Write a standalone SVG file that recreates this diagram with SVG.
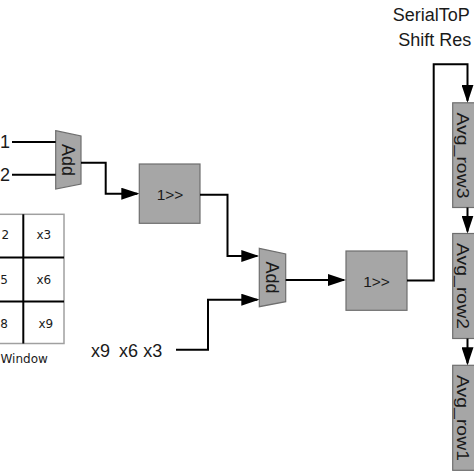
<svg xmlns="http://www.w3.org/2000/svg" width="474" height="474" viewBox="0 0 474 474">
<style>
.blk{fill:#a6a6a6;stroke:#6e6e6e;stroke-width:1.2}
.lbl{font-family:"Liberation Sans",Arial,sans-serif;fill:#1a1a1a}
.cell{font-family:"DejaVu Sans",Verdana,sans-serif;font-size:12px;fill:#1a1a1a}
.wire{fill:none;stroke:#000;stroke-width:2}
.arr{fill:none;stroke:#000;stroke-width:2;marker-end:url(#ah)}
.grid{fill:none;stroke:#000;stroke-width:2}
.avg{font-size:17px}
</style>
<defs>
<marker id="ah" viewBox="0 0 18 12" refX="16" refY="6" markerUnits="userSpaceOnUse" markerWidth="18" markerHeight="12" orient="auto">
<path d="M0,0 L18,6 L0,12 z" fill="#000"/>
</marker>
</defs>
<rect width="474" height="474" fill="#fff"/>

<g id="title">
<text class="lbl" x="392.7" y="21" font-size="18">SerialToP</text>
<text class="lbl" x="398.3" y="45.5" font-size="18">Shift Res</text>
</g>

<g id="inputs-left">
<text class="lbl" x="0" y="148" font-size="18">1</text>
<text class="lbl" x="0" y="181" font-size="18">2</text>
</g>

<g id="window">
<rect x="-17" y="214.3" width="81" height="129.2" fill="#fff" stroke="#a0a0a0" stroke-width="1.5"/>
<line class="grid" x1="23.3" y1="214.3" x2="23.3" y2="343.5"/>
<line class="grid" x1="0" y1="257.5" x2="64" y2="257.5"/>
<line class="grid" x1="0" y1="301.5" x2="64" y2="301.5"/>
<text class="cell" x="1.5" y="239.3">2</text>
<text class="cell" x="43.8" y="239.3" text-anchor="middle">x3</text>
<text class="cell" x="0.3" y="283.5">5</text>
<text class="cell" x="43.8" y="283.5" text-anchor="middle">x6</text>
<text class="cell" x="0.3" y="328">8</text>
<text class="cell" x="45.8" y="328" text-anchor="middle">x9</text>
<text class="cell" x="0.5" y="363" font-size="11">Window</text>
</g>

<g id="add1">
<polygon class="blk" points="55.7,130.7 81,136 81,184 55.7,189"/>
<text class="lbl" font-size="18" text-anchor="middle" transform="translate(68.3,160) rotate(90)" dy="6">Add</text>
</g>

<g id="shift1">
<rect class="blk" x="139.3" y="164" width="60.7" height="59.3"/>
<text class="lbl" x="170" y="199.5" font-size="15.5" text-anchor="middle">1&gt;&gt;</text>
</g>

<g id="add2">
<polygon class="blk" points="259.3,248.3 285.7,254 285.7,301.7 259.3,306.7"/>
<text class="lbl" font-size="18" text-anchor="middle" transform="translate(272.3,277.5) rotate(90)" dy="6">Add</text>
</g>

<g id="shift2">
<rect class="blk" x="346" y="251" width="61" height="59.3"/>
<text class="lbl" x="376.5" y="286.5" font-size="15.5" text-anchor="middle">1&gt;&gt;</text>
</g>

<g id="input-x">
<text class="lbl" y="356.5" font-size="18"><tspan x="91">x9</tspan> <tspan x="119">x6</tspan> <tspan x="143.3">x3</tspan></text>
</g>

<g id="avg_row3">
<rect class="blk" x="452.7" y="102.8" width="30" height="104.7"/>
<text class="lbl avg" text-anchor="middle" transform="translate(467.7,155.5) rotate(90)" dy="10.4" textLength="86" lengthAdjust="spacingAndGlyphs">Avg_row3</text>
</g>
<g id="avg_row2">
<rect class="blk" x="452.7" y="233.5" width="30" height="105"/>
<text class="lbl avg" text-anchor="middle" transform="translate(467.7,286) rotate(90)" dy="10.4" textLength="86" lengthAdjust="spacingAndGlyphs">Avg_row2</text>
</g>
<g id="avg_row1">
<rect class="blk" x="452.7" y="365.3" width="30" height="105"/>
<text class="lbl avg" text-anchor="middle" transform="translate(467.7,418) rotate(90)" dy="10.4" textLength="86" lengthAdjust="spacingAndGlyphs">Avg_row1</text>
</g>

<g id="connectors">
<path class="wire" d="M12,142 H55.7"/>
<path class="wire" d="M12,174.7 H55.7"/>
<path class="arr" d="M81,162.7 H105.7 V193.7 H137.3"/>
<path class="arr" d="M200,194.8 H227.5 V256 H257.3"/>
<path class="arr" d="M176,349.7 H208 V299.7 H257.3"/>
<path class="arr" d="M285.7,280 H344"/>
<path class="arr" d="M407,280.5 H433.7 V64.3 H467.5 V100.8"/>
<path class="arr" d="M467.5,207.5 V231.5"/>
<path class="arr" d="M467.5,338.5 V363.3"/>
</g>
</svg>
